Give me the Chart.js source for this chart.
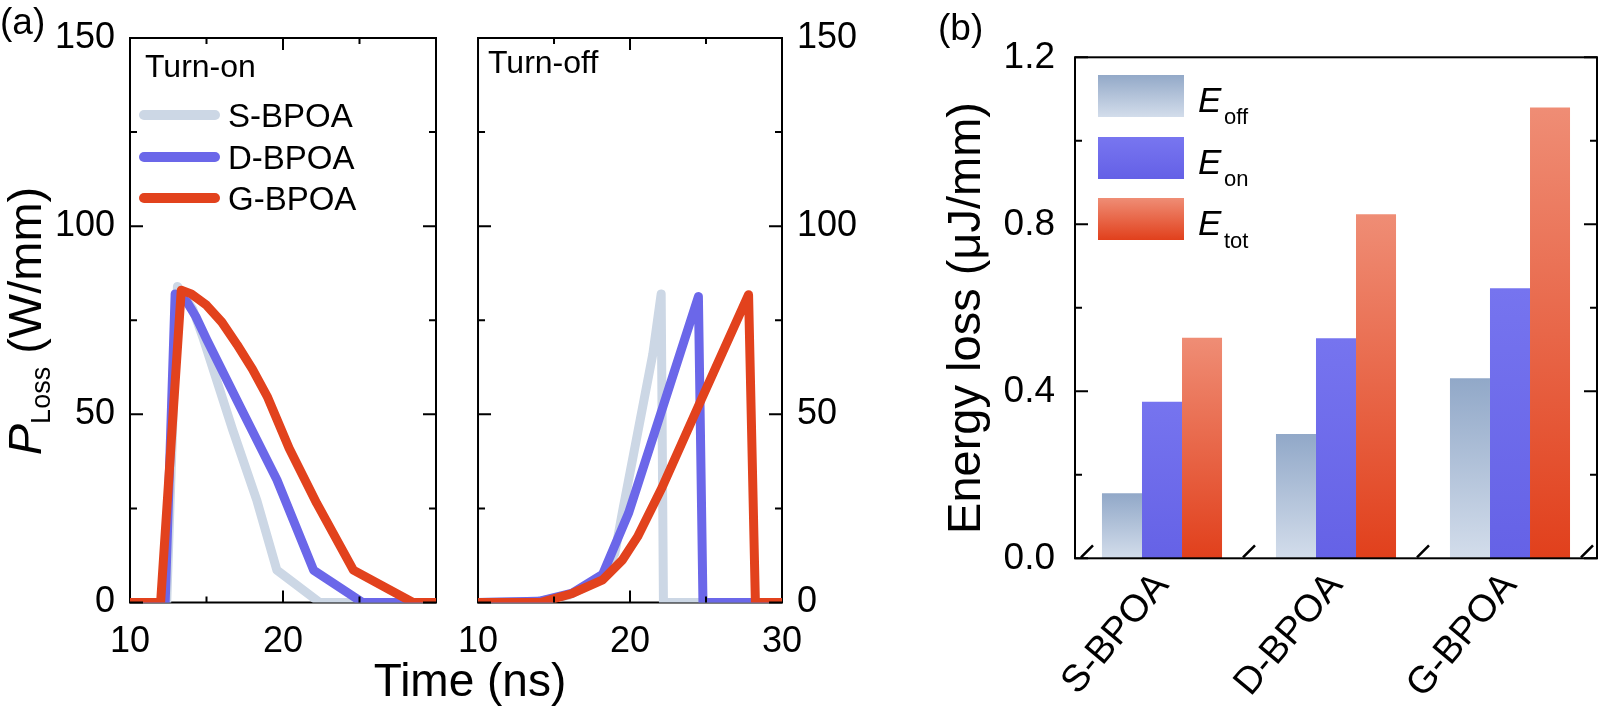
<!DOCTYPE html>
<html>
<head>
<meta charset="utf-8">
<title>Power loss and energy loss</title>
<script src="https://cdn.jsdelivr.net/npm/chart.js@4.4.1/dist/chart.umd.min.js"></script>
<style>
  html, body { margin: 0; padding: 0; background: #fff; }
  #page { position: relative; width: 1600px; height: 709px; overflow: hidden;
          font-family: "Liberation Sans", Arial, sans-serif; color: #000; }
  canvas { position: absolute; top: 0; }
  .txt { position: absolute; white-space: nowrap; line-height: 1; }
  .rot { position: absolute; white-space: nowrap; line-height: 1;
         transform: translate(-50%, -50%) rotate(-90deg); }
  .leg-line { position: absolute; left: 139px; width: 81px; height: 10px; border-radius: 5px; }
  .swatch { position: absolute; left: 1098px; width: 86px; height: 42px; }
</style>
</head>
<body>
<div id="page">
  <canvas id="onChart" width="460" height="709" style="left:0px"></canvas>
  <canvas id="offChart" width="460" height="709" style="left:440px"></canvas>
  <canvas id="barChart" width="700" height="709" style="left:900px"></canvas>

  <div class="txt" style="left:0px; top:3px; font-size:37px;">(a)</div>
  <div class="txt" style="left:938px; top:9px; font-size:37px;">(b)</div>

  <div class="txt" style="left:145px; top:50px; font-size:32px;">Turn-on</div>
  <div class="txt" style="left:488px; top:46px; font-size:32px;">Turn-off</div>

  <div class="leg-line" style="top:110px; background:#ccd7e5;"></div>
  <div class="leg-line" style="top:152px; background:#6b67e9;"></div>
  <div class="leg-line" style="top:193px; background:#e2421d;"></div>
  <div class="txt" style="left:228px; top:98.5px; font-size:33px;">S-BPOA</div>
  <div class="txt" style="left:228px; top:140.5px; font-size:33px;">D-BPOA</div>
  <div class="txt" style="left:228px; top:181.5px; font-size:33px;">G-BPOA</div>

  <div class="rot" style="left:24px; top:321px; font-size:47px;"><i>P</i><span style="font-size:27px; position:relative; top:9px;">Loss</span> (W/mm)</div>
  <div class="txt" style="left:470px; top:657px; font-size:46px; transform:translateX(-50%);">Time (ns)</div>
  <div class="rot" style="left:963px; top:318px; font-size:47px;">Energy loss (μJ/mm)</div>

  <div class="swatch" style="top:75px; background:linear-gradient(#93a9c8, #d3ddeb);"></div>
  <div class="swatch" style="top:137px; background:linear-gradient(#7876f0, #6460e6);"></div>
  <div class="swatch" style="top:198px; background:linear-gradient(#ef8d75, #e1401c);"></div>
  <div class="txt" style="left:1198px; top:82px; font-size:35px;"><i>E</i></div>
  <div class="txt" style="left:1224px; top:106px; font-size:22px;">off</div>
  <div class="txt" style="left:1198px; top:144px; font-size:35px;"><i>E</i></div>
  <div class="txt" style="left:1224px; top:168px; font-size:22px;">on</div>
  <div class="txt" style="left:1198px; top:205px; font-size:35px;"><i>E</i></div>
  <div class="txt" style="left:1224px; top:230px; font-size:22px;">tot</div>
</div>

<script>
// Turn-on power loss (ns, W/mm)
const onTimeS = [10, 12.4, 13.1, 14.1, 14.8, 16.7, 18.3, 19.6, 22.4, 30];
const onLossS = [0, 0, 84, 78, 70, 46, 27, 8.6, 0, 0];
const onTimeD = [10, 12.3, 12.95, 13.7, 14.3, 15.0, 17.2, 19.6, 22.0, 25.2, 30];
const onLossD = [0, 0, 82, 80, 76, 70, 52, 32.6, 8.6, 0, 0];
const onTimeG = [10, 12.0, 13.35, 14.0, 15.0, 16.0, 17.0, 18.0, 19.0, 20.4, 22.2, 24.6, 28.5, 30];
const onLossG = [0, 0, 83, 82, 79, 74.5, 68.5, 62, 54.5, 41, 26.4, 8.6, 0, 0];

// Turn-off power loss (ns, W/mm)
const offTimeS = [10, 14, 16, 18, 19, 19.5, 20.5, 21.5, 22.05, 22.2, 30];
const offLossS = [0, 0.3, 2, 6, 13, 24, 45, 66, 82, 0, 0];
const offTimeD = [10, 14, 16.2, 18.2, 19.9, 22.1, 24.5, 24.8, 30];
const offLossD = [0, 0.3, 2.5, 7.5, 23.7, 51.2, 81.3, 0, 0];
const offTimeG = [10, 14.1, 16.2, 18.2, 19.5, 20.5, 22.1, 24.7, 27.8, 28.25, 30];
const offLossG = [0, 0, 2.4, 6.0, 11.3, 17.5, 30.5, 54, 81.8, 0, 0];

// Energy loss (uJ/mm)
const devices = ["S-BPOA", "D-BPOA", "G-BPOA"];
const eOff = [0.156, 0.298, 0.431];
const eOn = [0.375, 0.527, 0.647];
const eTot = [0.528, 0.824, 1.08];

const FONT = "Liberation Sans";
const LIGHT = "#ccd7e5";
const BLUE = "#6b67e9";
const RED = "#e2421d";

function pts(times, vals) {
  return times.map((t, i) => ({ x: t, y: vals[i] }));
}

function isMultiple(v, step) {
  return Math.abs(v / step - Math.round(v / step)) < 1e-6;
}

// Boxed frame with inward ticks on every side
const frameTicks = {
  id: "frameTicks",
  beforeDatasetsDraw(chart, args, o) {
    if (!o.frameOnTop) drawFrame(chart);
  },
  afterDatasetsDraw(chart, args, o) {
    const a = chart.chartArea;
    const c = chart.ctx;
    if (o.frameOnTop) drawFrame(chart);
    c.save();
    c.strokeStyle = "#000";
    c.lineWidth = 2;
    c.beginPath();
    if (o.majorX) {
      const xs = chart.scales.x;
      xs.ticks.forEach((t) => {
        const px = xs.getPixelForValue(t.value);
        if (px <= a.left + 1 || px >= a.right - 1) return;
        const len = isMultiple(t.value, o.majorX) ? 12 : 6;
        c.moveTo(px, a.bottom); c.lineTo(px, a.bottom - len);
        c.moveTo(px, a.top); c.lineTo(px, a.top + len);
      });
    }
    const ys = chart.scales.y;
    ys.ticks.forEach((t) => {
      const py = ys.getPixelForValue(t.value);
      const len = isMultiple(t.value, o.majorY) ? 13 : 7;
      c.moveTo(a.left, py); c.lineTo(a.left + len, py);
      c.moveTo(a.right, py); c.lineTo(a.right - len, py);
    });
    c.stroke();
    // axis break slashes between bar groups
    if (o.slashes) {
      const xs = chart.scales.x;
      c.lineWidth = 2.5;
      c.beginPath();
      for (let i = 0; i <= devices.length; i++) {
        let bx = xs.getPixelForValue(i - 0.5);
        if (i === 0) bx += 12;
        if (i === devices.length) bx -= 10;
        c.moveTo(bx - 6, a.bottom - 1);
        c.lineTo(bx + 6, a.bottom - 13);
      }
      c.stroke();
    }
    c.restore();
  },
};

function drawFrame(chart) {
  const a = chart.chartArea;
  const c = chart.ctx;
  c.save();
  c.strokeStyle = "#000";
  c.lineWidth = 2;
  c.strokeRect(a.left, a.top, a.right - a.left, a.bottom - a.top);
  c.restore();
}

function lineSet(label, data, color, order) {
  return {
    label: label,
    data: data,
    borderColor: color,
    backgroundColor: color,
    borderWidth: 9,
    pointRadius: 0,
    tension: 0,
    borderJoinStyle: "round",
    borderCapStyle: "round",
    order: order,
  };
}

function lossOptions(side, xLabels, padLeft, padRight) {
  return {
    responsive: false,
    animation: false,
    layout: { padding: { left: padLeft, right: padRight, top: 38, bottom: 0 } },
    plugins: {
      legend: { display: false },
      tooltip: { enabled: false },
      frameTicks: { majorX: 10, majorY: 50 },
    },
    scales: {
      x: {
        type: "linear",
        min: 10,
        max: 30,
        afterFit: (s) => { s.height = 106.5; },
        grid: { display: false, drawTicks: false },
        border: { display: false },
        ticks: {
          stepSize: 5,
          padding: 18,
          color: "#000",
          font: { family: FONT, size: 36 },
          callback: (v) => (xLabels.includes(v) ? v : ""),
        },
      },
      y: {
        position: side,
        min: 0,
        max: 150,
        afterFit: (s) => { s.width = side === "left" ? 130 : 118; },
        grid: { display: false, drawTicks: false },
        border: { display: false },
        ticks: {
          stepSize: 25,
          padding: 15,
          color: "#000",
          font: { family: FONT, size: 36 },
          callback: (v) => (v % 50 === 0 ? v : ""),
        },
      },
    },
  };
}

new Chart(document.getElementById("onChart"), {
  type: "line",
  data: {
    datasets: [
      lineSet("G-BPOA", pts(onTimeG, onLossG), RED, 0),
      lineSet("D-BPOA", pts(onTimeD, onLossD), BLUE, 1),
      lineSet("S-BPOA", pts(onTimeS, onLossS), LIGHT, 2),
    ],
  },
  options: lossOptions("left", [10, 20], 0, 24),
  plugins: [frameTicks],
});

new Chart(document.getElementById("offChart"), {
  type: "line",
  data: {
    datasets: [
      lineSet("G-BPOA", pts(offTimeG, offLossG), RED, 0),
      lineSet("D-BPOA", pts(offTimeD, offLossD), BLUE, 1),
      lineSet("S-BPOA", pts(offTimeS, offLossS), LIGHT, 2),
    ],
  },
  options: lossOptions("right", [10, 20, 30], 34, 0),
  plugins: [frameTicks],
});

// vertical gradient inside each bar
function barGradient(top, bottom) {
  return (c) => {
    const chart = c.chart;
    const v = c.parsed ? c.parsed.y : c.raw;
    if (!chart.chartArea || v == null) return bottom;
    const ys = chart.scales.y;
    const g = chart.ctx.createLinearGradient(0, ys.getPixelForValue(v), 0, ys.getPixelForValue(0));
    g.addColorStop(0, top);
    g.addColorStop(1, bottom);
    return g;
  };
}

new Chart(document.getElementById("barChart"), {
  type: "bar",
  data: {
    labels: devices,
    datasets: [
      { label: "E_off", data: eOff, backgroundColor: barGradient("#91a8c8", "#d3ddeb") },
      { label: "E_on", data: eOn, backgroundColor: barGradient("#7674ef", "#6562e6") },
      { label: "E_tot", data: eTot, backgroundColor: barGradient("#ef8d75", "#e1401c") },
    ],
  },
  options: {
    responsive: false,
    animation: false,
    layout: { padding: { left: 0, right: 3, top: 57.3, bottom: 0 } },
    datasets: { bar: { categoryPercentage: 0.69, barPercentage: 1.0, borderWidth: 0 } },
    plugins: {
      legend: { display: false },
      tooltip: { enabled: false },
      frameTicks: { majorY: 0.4, slashes: true, frameOnTop: true },
    },
    scales: {
      x: {
        afterFit: (s) => { s.height = 150.7; },
        grid: { display: false, drawTicks: false },
        border: { display: false },
        ticks: {
          autoSkip: false,
          minRotation: 50,
          maxRotation: 50,
          padding: 6,
          color: "#000",
          font: { family: FONT, size: 38 },
        },
      },
      y: {
        min: 0,
        max: 1.2,
        afterFit: (s) => { s.width = 175; },
        grid: { display: false, drawTicks: false },
        border: { display: false },
        ticks: {
          stepSize: 0.2,
          padding: 20,
          color: "#000",
          font: { family: FONT, size: 37 },
          callback: (v) => (isMultiple(v, 0.4) ? v.toFixed(1) : ""),
        },
      },
    },
  },
  plugins: [frameTicks],
});
</script>
</body>
</html>
